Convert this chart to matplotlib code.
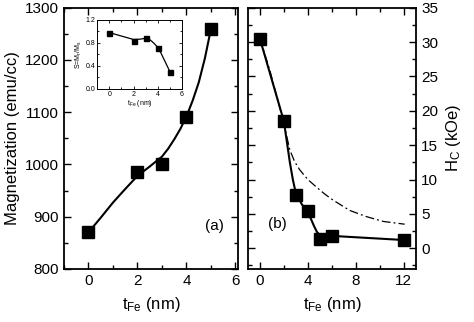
import numpy as np
import matplotlib
matplotlib.use("Agg")
import matplotlib.pyplot as plt
from matplotlib.ticker import MultipleLocator

plt.rcParams['font.family'] = ['Liberation Sans', 'DejaVu Sans']
plt.rcParams['mathtext.fontset'] = 'custom'
plt.rcParams['mathtext.rm'] = 'Liberation Sans'
plt.rcParams['mathtext.it'] = 'Liberation Sans'

# panel (a): magnetization vs Fe thickness
t_a = [0, 2, 3, 4, 5]
mag = [870, 985, 1000, 1090, 1260]
# guide curve
t_a_fit = [0, 0.5, 1, 1.5, 2, 2.5, 3, 3.25, 3.5, 3.75, 4, 4.25, 4.5, 4.75, 5]
mag_fit = [870, 898, 927, 953, 978, 996, 1015, 1030, 1048, 1068, 1092,
           1122, 1157, 1203, 1260]

# inset: squareness
t_in = [0, 2, 3, 4, 5]
sq = [0.98, 0.83, 0.89, 0.72, 0.30]
t_in_fit = [0, 0.5, 1, 1.5, 2, 2.5, 3, 3.25, 3.5, 3.75, 4, 4.25, 4.5, 4.75, 5]
sq_fit = [0.98, 0.95, 0.92, 0.89, 0.86, 0.865, 0.88, 0.87, 0.83, 0.78,
          0.72, 0.63, 0.52, 0.41, 0.30]

# panel (b): coercivity
t_b = [0, 2, 3, 4, 5, 6, 12]
hc = [30.5, 18.5, 7.8, 5.4, 1.3, 1.8, 1.2]
t_b_fit = [0, 0.5, 1, 1.5, 2, 2.25, 2.5, 2.75, 3, 3.5, 4, 4.25, 4.5, 4.75,
           5, 5.5, 6, 9, 12]
hc_fit = [30.5, 27.5, 24.5, 21.5, 18.5, 15.5, 12.5, 10.0, 8.0, 6.4, 5.2,
          4.3, 3.3, 2.4, 1.9, 1.85, 1.8, 1.5, 1.2]
# dash-dot model curve
t_dd = [0, 0.83, 1.94, 2.5, 2.9, 3.33, 4.0, 4.72, 5.4, 6.11, 7.5, 8.89,
        10.3, 12.08]
hc_dd = [30.5, 25.9, 18.6, 14.3, 12.6, 11.4, 10.0, 8.9, 7.9, 7.0, 5.5, 4.6,
         3.9, 3.5]


def style_ax(ax, maj_len=5, min_len=3):
    ax.tick_params(which='both', direction='in', top=True, right=True,
                   width=1.0, labelsize=11, pad=4)
    ax.tick_params(which='major', length=maj_len)
    ax.tick_params(which='minor', length=min_len)
    for s in ax.spines.values():
        s.set_linewidth(1.3)


fig = plt.figure(figsize=(4.74, 3.22), dpi=100)

ax1 = fig.add_axes([0.135, 0.165, 0.367, 0.811])
ax1.plot(t_a_fit, mag_fit, color='black', lw=1.5, zorder=2)
ax1.plot(t_a, mag, 's', color='black', ms=9, zorder=3)
ax1.set_xlim(-1, 6.1)
ax1.set_ylim(800, 1300)
ax1.xaxis.set_major_locator(MultipleLocator(2))
ax1.xaxis.set_minor_locator(MultipleLocator(1))
ax1.yaxis.set_major_locator(MultipleLocator(100))
ax1.yaxis.set_minor_locator(MultipleLocator(50))
style_ax(ax1)
ax1.set_ylabel('Magnetization (emu/cc)', fontsize=12, labelpad=3)
ax1.set_xlabel(r'$\mathrm{t_{Fe}}$ (nm)', fontsize=12, labelpad=5)
ax1.text(0.92, 0.165, '(a)', transform=ax1.transAxes, fontsize=11,
         ha='right', va='center')

ax_in = fig.add_axes([0.205, 0.724, 0.179, 0.214])
ax_in.plot(t_in_fit, sq_fit, color='black', lw=0.9)
ax_in.plot(t_in, sq, 's', color='black', ms=3.6)
ax_in.set_xlim(-1, 6)
ax_in.set_ylim(0, 1.2)
ax_in.xaxis.set_major_locator(MultipleLocator(2))
ax_in.xaxis.set_minor_locator(MultipleLocator(1))
ax_in.yaxis.set_major_locator(MultipleLocator(0.4))
ax_in.yaxis.set_minor_locator(MultipleLocator(0.2))
ax_in.tick_params(which='both', direction='in', top=True, right=True,
                  width=0.6, labelsize=5, pad=1.5)
ax_in.tick_params(which='major', length=2.5)
ax_in.tick_params(which='minor', length=1.5)
for s in ax_in.spines.values():
    s.set_linewidth(0.7)
ax_in.yaxis.set_major_formatter(matplotlib.ticker.FormatStrFormatter('%.1f'))
ax_in.set_ylabel(r'S=M$_\mathrm{r}$/M$_\mathrm{s}$', fontsize=5, labelpad=1)
ax_in.set_xlabel(r'$\mathrm{t_{Fe}}$ (nm)', fontsize=5, labelpad=0)

ax2 = fig.add_axes([0.523, 0.165, 0.354, 0.811])
ax2.plot(t_dd, hc_dd, color='black', lw=0.9, dashes=(7, 2.5, 1.5, 2.5))
ax2.plot(t_b_fit, hc_fit, color='black', lw=1.5, zorder=2)
ax2.plot(t_b, hc, 's', color='black', ms=8, zorder=3)
ax2.set_xlim(-1, 13)
ax2.set_ylim(-3, 35)
ax2.xaxis.set_major_locator(MultipleLocator(4))
ax2.xaxis.set_minor_locator(MultipleLocator(2))
ax2.yaxis.set_major_locator(MultipleLocator(5))
ax2.yaxis.set_minor_locator(MultipleLocator(2.5))
style_ax(ax2)
ax2.tick_params(labelleft=False, labelright=True)
ax2.yaxis.set_label_position('right')
ax2.set_ylabel(r'H$_\mathrm{C}$ (kOe)', fontsize=12, labelpad=4)
ax2.set_xlabel(r'$\mathrm{t_{Fe}}$ (nm)', fontsize=12, labelpad=5)
ax2.text(0.12, 0.17, '(b)', transform=ax2.transAxes, fontsize=11,
         ha='left', va='center')

fig.savefig('out.png', dpi=100)
